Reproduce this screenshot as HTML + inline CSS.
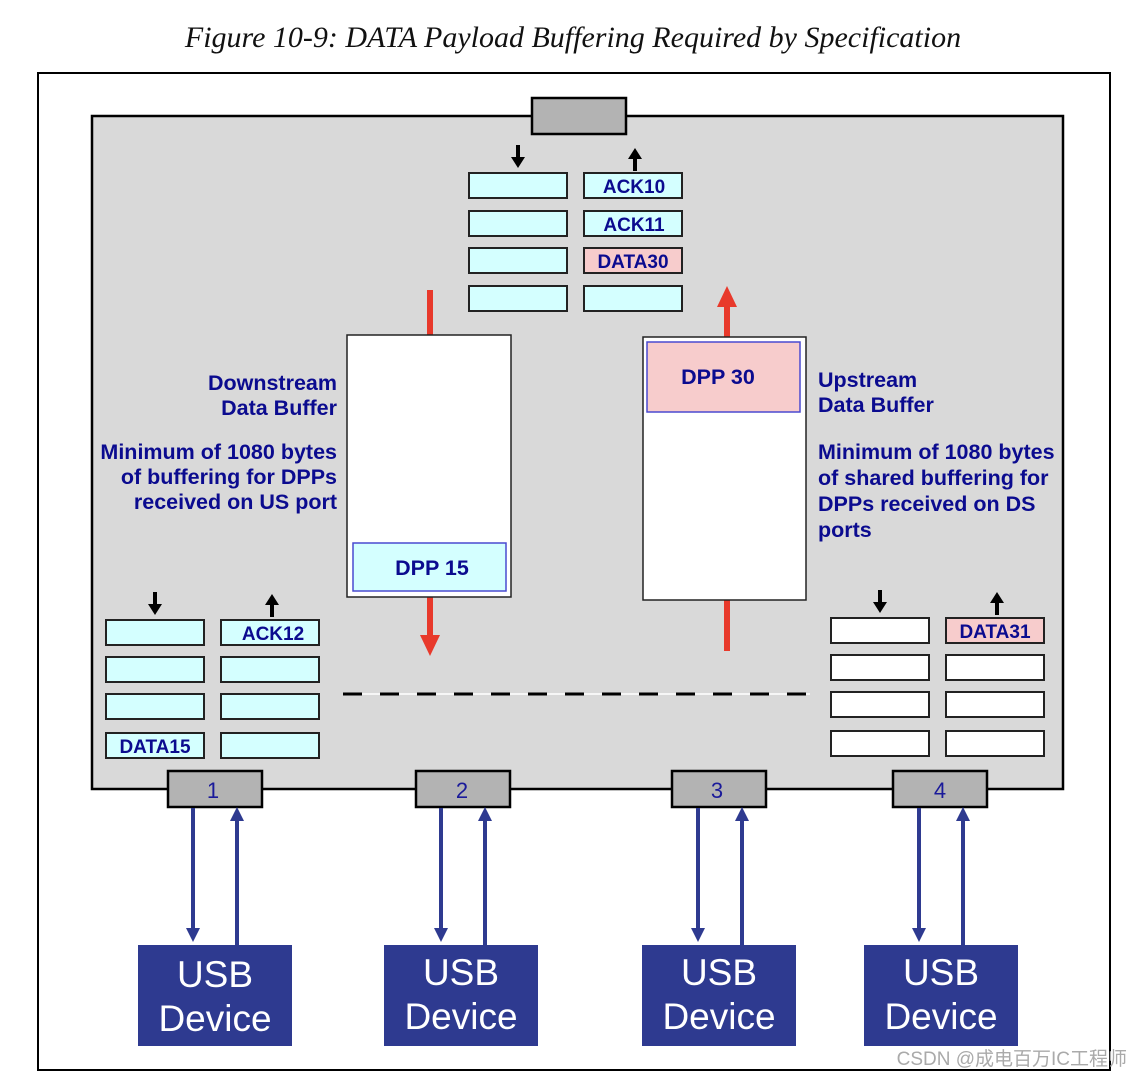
<!DOCTYPE html>
<html><head><meta charset="utf-8"><style>
body{margin:0;background:#fff;}
svg{display:block;}
.t{font-family:"Liberation Sans",sans-serif;font-weight:bold;fill:#0b0b8f;}
</style></head><body>
<svg width="1142" height="1078" viewBox="0 0 1142 1078" xmlns="http://www.w3.org/2000/svg">
<text x="573" y="47" text-anchor="middle" font-family="Liberation Serif,serif" font-style="italic" font-size="30" fill="#111">Figure 10-9: DATA Payload Buffering Required by Specification</text>
<rect x="38" y="73" width="1072" height="997" fill="#fff" stroke="#000" stroke-width="2"/>
<rect x="92" y="116" width="971" height="673" fill="#d9d9d9" stroke="#000" stroke-width="2.5"/>
<rect x="532" y="98" width="94" height="36" fill="#b3b3b3" stroke="#000" stroke-width="2.5"/>
<g stroke="#222" stroke-width="2" fill="#d4ffff">
<rect x="469" y="173" width="98" height="25"/><rect x="469" y="211" width="98" height="25"/><rect x="469" y="248" width="98" height="25"/><rect x="469" y="286" width="98" height="25"/>
<rect x="584" y="173" width="98" height="25"/><rect x="584" y="211" width="98" height="25"/><rect x="584" y="248" width="98" height="25" fill="#f7cccc"/><rect x="584" y="286" width="98" height="25"/>
<rect x="106" y="620" width="98" height="25"/><rect x="106" y="657" width="98" height="25"/><rect x="106" y="694" width="98" height="25"/><rect x="106" y="733" width="98" height="25"/>
<rect x="221" y="620" width="98" height="25"/><rect x="221" y="657" width="98" height="25"/><rect x="221" y="694" width="98" height="25"/><rect x="221" y="733" width="98" height="25"/>
</g>
<g stroke="#222" stroke-width="2" fill="#fff">
<rect x="831" y="618" width="98" height="25"/><rect x="831" y="655" width="98" height="25"/><rect x="831" y="692" width="98" height="25"/><rect x="831" y="731" width="98" height="25"/>
<rect x="946" y="618" width="98" height="25" fill="#f7cccc"/><rect x="946" y="655" width="98" height="25"/><rect x="946" y="692" width="98" height="25"/><rect x="946" y="731" width="98" height="25"/>
</g>
<g class="t" font-size="19" text-anchor="middle">
<text x="634" y="193">ACK10</text>
<text x="634" y="231">ACK11</text>
<text x="633" y="268">DATA30</text>
<text x="273" y="640">ACK12</text>
<text x="155" y="753">DATA15</text>
<text x="995" y="638">DATA31</text>
</g>
<g fill="#000">
<path d="M516,145h4v12h5l-7,11l-7,-11h5z"/>
<path d="M633,171h4v-12h5l-7,-11l-7,11h5z"/>
<path d="M153,592h4v12h5l-7,11l-7,-11h5z"/>
<path d="M270,617h4v-12h5l-7,-11l-7,11h5z"/>
<path d="M878,590h4v12h5l-7,11l-7,-11h5z"/>
<path d="M995,615h4v-12h5l-7,-11l-7,11h5z"/>
</g>
<line x1="343" y1="694" x2="810" y2="694" stroke="#fff" stroke-width="1.5"/>
<line x1="343" y1="694" x2="810" y2="694" stroke="#000" stroke-width="3" stroke-dasharray="19 18"/>
<g fill="#e8392b">
<rect x="427" y="290" width="6" height="46"/>
<path d="M427,597h6v38h7l-10,21l-10,-21h7z"/>
<rect x="724" y="600" width="6" height="51"/>
<path d="M724,337h6v-30h7l-10,-21l-10,21h7z"/>
</g>
<rect x="347" y="335" width="164" height="262" fill="#fff" stroke="#222" stroke-width="1.5"/>
<rect x="353" y="543" width="153" height="48" fill="#d4ffff" stroke="#4a4ad0" stroke-width="1.5"/>
<text class="t" x="432" y="575" font-size="21.5" text-anchor="middle">DPP 15</text>
<rect x="643" y="337" width="163" height="263" fill="#fff" stroke="#222" stroke-width="1.5"/>
<rect x="647" y="342" width="153" height="70" fill="#f7cccc" stroke="#4a4ad0" stroke-width="1.5"/>
<text class="t" x="718" y="384" font-size="21.5" text-anchor="middle">DPP 30</text>
<g class="t" font-size="21.5" text-anchor="end">
<text x="337" y="390">Downstream</text><text x="337" y="415">Data Buffer</text>
<text x="337" y="459">Minimum of 1080 bytes</text><text x="337" y="484">of buffering for DPPs</text><text x="337" y="509">received on US port</text>
</g>
<g class="t" font-size="21.5">
<text x="818" y="387">Upstream</text><text x="818" y="412">Data Buffer</text>
<text x="818" y="459">Minimum of 1080 bytes</text><text x="818" y="485">of shared buffering for</text><text x="818" y="511">DPPs received on DS</text><text x="818" y="537">ports</text>
</g>
<g stroke="#000" stroke-width="2.5" fill="#b3b3b3">
<rect x="168" y="771" width="94" height="36"/><rect x="416" y="771" width="94" height="36"/><rect x="672" y="771" width="94" height="36"/><rect x="893" y="771" width="94" height="36"/>
</g>
<g font-family="Liberation Sans,sans-serif" font-size="22" fill="#1a1a9a" text-anchor="middle">
<text x="213" y="798">1</text><text x="462" y="798">2</text><text x="717" y="798">3</text><text x="940" y="798">4</text>
</g>
<g fill="#2e3a90">
<path d="M191,808h4v120h5l-7,14l-7,-14h5z"/><path d="M235,945h4v-124h5l-7,-14l-7,14h5z"/>
<path d="M439,808h4v120h5l-7,14l-7,-14h5z"/><path d="M483,945h4v-124h5l-7,-14l-7,14h5z"/>
<path d="M696,808h4v120h5l-7,14l-7,-14h5z"/><path d="M740,945h4v-124h5l-7,-14l-7,14h5z"/>
<path d="M917,808h4v120h5l-7,14l-7,-14h5z"/><path d="M961,945h4v-124h5l-7,-14l-7,14h5z"/>
<rect x="138" y="945" width="154" height="101"/><rect x="384" y="945" width="154" height="101"/><rect x="642" y="945" width="154" height="101"/><rect x="864" y="945" width="154" height="101"/>
</g>
<g font-family="Liberation Sans,sans-serif" font-size="37" fill="#fff" text-anchor="middle">
<text x="215" y="987">USB</text><text x="215" y="1031">Device</text>
<text x="461" y="985">USB</text><text x="461" y="1029">Device</text>
<text x="719" y="985">USB</text><text x="719" y="1029">Device</text>
<text x="941" y="985">USB</text><text x="941" y="1029">Device</text>
</g>
<text x="1127" y="1065" text-anchor="end" font-family="Liberation Sans,'Noto Sans CJK SC',sans-serif" font-size="19" fill="#aaa">CSDN @成电百万IC工程师</text>
</svg>
</body></html>
